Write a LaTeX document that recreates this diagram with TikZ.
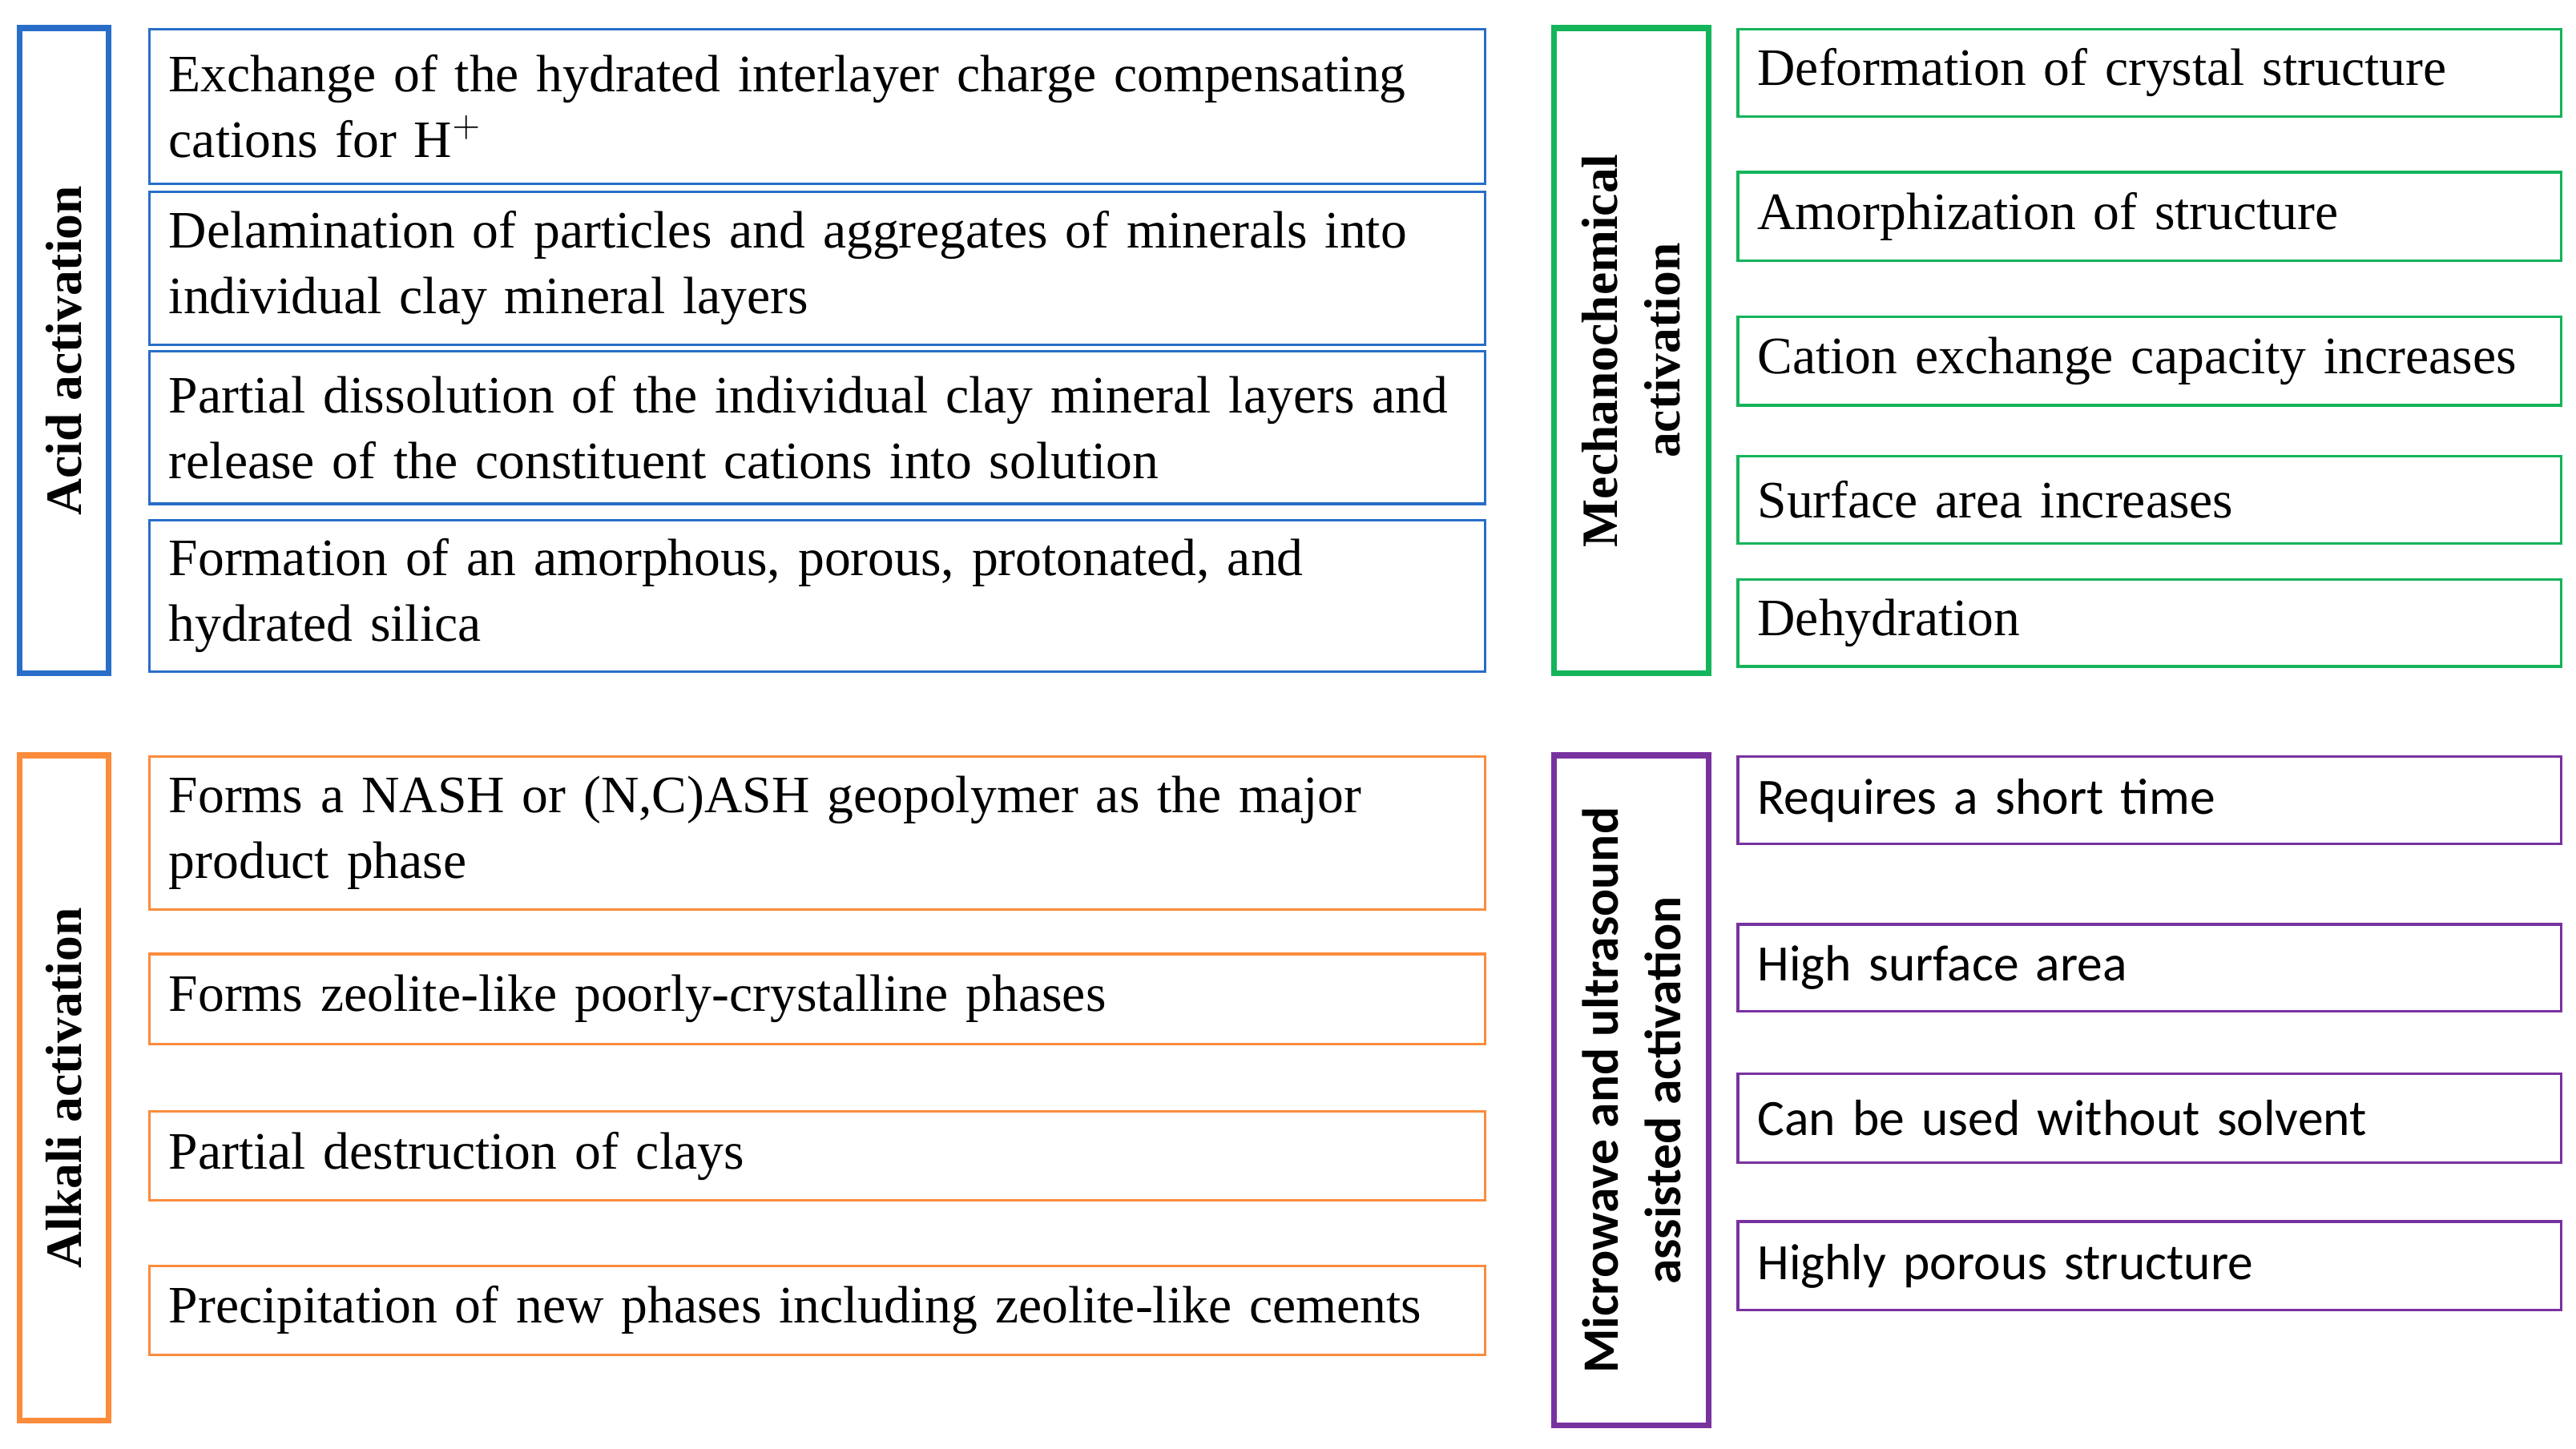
\documentclass[tikz,border=0pt]{standalone}
\usepackage{fontspec}
\setmainfont{Liberation Serif}
\newfontfamily\calib{Carlito}
\definecolor{acidc}{RGB}{40,110,200}
\definecolor{alkc}{RGB}{250,140,60}
\definecolor{mechc}{RGB}{20,180,90}
\definecolor{micc}{RGB}{120,50,160}
\tikzset{every picture/.style={line width=0.75pt}}
\tikzset{
  item/.style={draw=#1, line width=0.8pt, anchor=north west, inner xsep=6pt, inner ysep=0pt, align=left, font=\fontsize{16}{20}\selectfont},
  head/.style={draw=#1, line width=1.8pt, inner sep=0pt, rotate=90, align=center, font=\fontsize{15.5}{19}\selectfont\bfseries}
}
\begin{document}
\begin{tikzpicture}[x=0.5pt,y=0.5pt,yscale=-1]
\useasboundingbox (0,0) rectangle (1568,882);

% Acid activation
\node [head=acidc, minimum width=196.5pt, minimum height=27pt] (acid) at (39,213.5) {Acid activation};
\node [item=acidc, text width=394.5pt, minimum height=47pt] (acid1) at (90,17) {Exchange of the hydrated interlayer charge compensating\\ cations for H$^{+}$};
\node [item=acidc, text width=394.5pt, minimum height=46.5pt] (acid2) at (90,116) {Delamination of particles and aggregates of minerals into\\ individual clay mineral layers};
\node [item=acidc, text width=394.5pt, minimum height=46.5pt] (acid3) at (90,213) {Partial dissolution of the individual clay mineral layers and\\ release of the constituent cations into solution};
\node [item=acidc, text width=394.5pt, minimum height=46pt] (acid4) at (90,316) {Formation of an amorphous, porous, protonated, and\\ hydrated silica};

% Alkali activation
\node [head=alkc, minimum width=202.5pt, minimum height=27pt] (alk) at (39,662.5) {Alkali activation};
\node [item=alkc, text width=394.5pt, minimum height=46.5pt] (alk1) at (90,460) {Forms a NASH or (N,C)ASH geopolymer as the major\\ product phase};
\node [item=alkc, text width=394.5pt, minimum height=27.5pt] (alk2) at (90,580) {Forms zeolite-like poorly-crystalline phases};
\node [item=alkc, text width=394.5pt, minimum height=27pt] (alk3) at (90,676) {Partial destruction of clays};
\node [item=alkc, text width=394.5pt, minimum height=27pt] (alk4) at (90,770) {Precipitation of new phases including zeolite-like cements};

% Mechanochemical activation
\node [head=mechc, minimum width=196.5pt, minimum height=47pt] (mech) at (993,213.5) {Mechanochemical\\ activation};
\node [item=mechc, text width=238.5pt, minimum height=26.5pt] (mech1) at (1057,17) {Deformation of crystal structure};
\node [item=mechc, text width=238.5pt, minimum height=27pt] (mech2) at (1057,104) {Amorphization of structure};
\node [item=mechc, text width=238.5pt, minimum height=27pt] (mech3) at (1057,192) {Cation exchange capacity increases};
\node [item=mechc, text width=238.5pt, minimum height=26.5pt] (mech4) at (1057,277) {Surface area increases};
\node [item=mechc, text width=238.5pt, minimum height=26.5pt] (mech5) at (1057,352) {Dehydration};

% Microwave and ultrasound assisted activation
\node [head=micc, minimum width=204pt, minimum height=47pt, font=\fontsize{15.5}{19}\selectfont\bfseries\calib] (mic) at (993,664) {Microwave and ultrasound\\ assisted activation};
\node [item=micc, text width=238.5pt, minimum height=26.5pt, font=\fontsize{15.5}{20}\selectfont\calib] (mic1) at (1057,460) {Requires a short time};
\node [item=micc, text width=238.5pt, minimum height=26.5pt, font=\fontsize{15.5}{20}\selectfont\calib] (mic2) at (1057,562) {High surface area};
\node [item=micc, text width=238.5pt, minimum height=27pt, font=\fontsize{15.5}{20}\selectfont\calib] (mic3) at (1057,653) {Can be used without solvent};
\node [item=micc, text width=238.5pt, minimum height=27pt, font=\fontsize{15.5}{20}\selectfont\calib] (mic4) at (1057,743) {Highly porous structure};

\end{tikzpicture}
\end{document}
